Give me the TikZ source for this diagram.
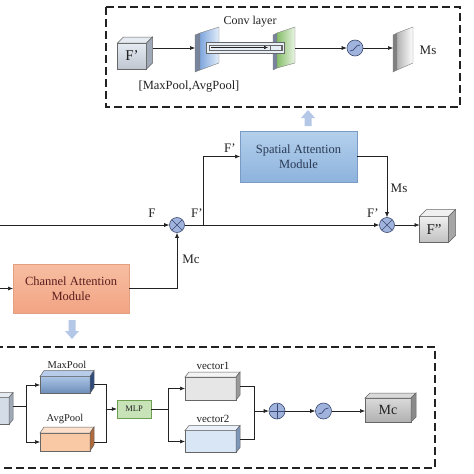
\documentclass[tikz,border=0pt]{standalone}
\usepackage{fontspec}
\setmainfont{Liberation Serif}
\usetikzlibrary{arrows.meta,calc}
\definecolor{samtop}{HTML}{B4D0EC}
\definecolor{sambot}{HTML}{8DB3DD}
\definecolor{samborder}{HTML}{7A9CC4}
\definecolor{samtext}{HTML}{2B3A55}
\definecolor{camtop}{HTML}{F7BEA2}
\definecolor{cambot}{HTML}{F2A483}
\definecolor{camborder}{HTML}{E3A080}
\definecolor{camtext}{HTML}{5C1E1E}
\definecolor{mpfront}{HTML}{7FA5D8}
\definecolor{mptop}{HTML}{B6CCEA}
\definecolor{mpside}{HTML}{2E4A7A}
\definecolor{apfront}{HTML}{F9C9A5}
\definecolor{aptop}{HTML}{FCE0CB}
\definecolor{apside}{HTML}{B0693A}
\definecolor{mlpfill}{HTML}{C9E3B8}
\definecolor{mlpborder}{HTML}{6E9E50}
\definecolor{vonefront}{HTML}{E6E6E6}
\definecolor{vonetop}{HTML}{F4F4F4}
\definecolor{voneside}{HTML}{9A9A9A}
\definecolor{vtwofront}{HTML}{D9E6F6}
\definecolor{vtwotop}{HTML}{EAF1FA}
\definecolor{vtwoside}{HTML}{7D97BA}
\definecolor{mcfront}{HTML}{C4C4C4}
\definecolor{mctop}{HTML}{DADADA}
\definecolor{mcside}{HTML}{8A8A8A}
\definecolor{fpfront}{HTML}{D4DCE8}
\definecolor{fptop}{HTML}{E6EBF2}
\definecolor{fpside}{HTML}{9FA9B8}
\definecolor{ffront}{HTML}{E2E2E2}
\definecolor{ftop}{HTML}{F0F0F0}
\definecolor{fside}{HTML}{A6A6A6}
\definecolor{opfill}{HTML}{9FB3DD}
\definecolor{opdraw}{HTML}{3C4A72}
\definecolor{bigarrow}{HTML}{B4C7E7}
\definecolor{inkc}{HTML}{222222}
\definecolor{planeblue}{HTML}{7FA6DE}
\definecolor{planeblueL}{HTML}{E4EEF9}
\definecolor{planegreen}{HTML}{86BE6A}
\definecolor{planegreenL}{HTML}{EAF4E4}
\definecolor{planeside}{HTML}{77849C}
\definecolor{tubefill}{HTML}{E8EEF6}

\tikzset{
  conn/.style={draw=inkc, line width=0.6pt},
  arr/.style={conn, -{Latex[length=5pt,width=4pt]}},
  lbl/.style={font=\fontsize{13}{14}\selectfont, inner sep=0pt, text=inkc},
  smalllbl/.style={font=\fontsize{10.5}{12}\selectfont, inner sep=0pt, text=inkc},
  face/.style={draw=black!60, line width=0.5pt, inner sep=0pt, outer sep=0pt, text=inkc},
  dashbox/.style={draw=inkc, line width=1.3pt, dash pattern=on 8pt off 4pt},
  opcircle/.style={circle, draw=opdraw, fill=opfill, line width=0.6pt, minimum size=15pt, inner sep=0pt},
  modbox/.style={draw, line width=0.6pt, align=center, inner sep=0pt, outer sep=0pt,
    font=\fontsize{12.5}{15}\selectfont},
  planeedge/.style={draw=black!50, line width=0.4pt},
}

\newcommand{\cubefaces}[5]{%
  \filldraw[fill=#4, draw=black!60, line width=0.5pt] (#1.north west) -- ++(#2,#3) -- ($(#1.north east)+(#2,#3)$) -- (#1.north east) -- cycle;
  \filldraw[fill=#5, draw=black!60, line width=0.5pt] (#1.north east) -- ++(#2,#3) -- ($(#1.south east)+(#2,#3)$) -- (#1.south east) -- cycle;
}
\newcommand{\otimessign}[1]{%
  \draw[opdraw, line width=0.6pt] ($(#1.center)+(-5,-5)$) -- ($(#1.center)+(5,5)$);
  \draw[opdraw, line width=0.6pt] ($(#1.center)+(-5,5)$) -- ($(#1.center)+(5,-5)$);
}
\newcommand{\oplussign}[1]{%
  \draw[opdraw, line width=0.6pt] ($(#1.center)+(-7.5,0)$) -- ($(#1.center)+(7.5,0)$);
  \draw[opdraw, line width=0.6pt] ($(#1.center)+(0,-7.5)$) -- ($(#1.center)+(0,7.5)$);
}
\newcommand{\sigsign}[1]{%
  \draw[opdraw, line width=0.7pt] ($(#1.center)+(-5,3)$) .. controls ($(#1.center)+(1,3)$) and ($(#1.center)+(-1,-3)$) .. ($(#1.center)+(5,-3)$);
}

\begin{document}
\begin{tikzpicture}[x=1pt,y=-1pt]
\useasboundingbox (0,0) rectangle (474,474);
\fill[white] (0,0) rectangle (474,474);
\clip (0,0) rectangle (474,474);

% ---------------- top dashed box (spatial attention detail) ----------------
\draw[dashbox] (106,7) rectangle (460,107);

\node[face, top color=fptop, bottom color=fpfront!90!black, minimum width=29pt, minimum height=26pt] (fp) at (132,56) {\fontsize{15}{16}\selectfont F'};
\cubefaces{fp}{6}{-6}{fptop}{fpside}
\coordinate (fpo) at (153,48);

% blue plane
\filldraw[fill=planeside, planeedge] (195,35) -- (200,33) -- (200,70) -- (195,72) -- cycle;
\shade[left color=planeblue, right color=planeblueL] (200,33) -- (219,27) -- (219,63) -- (200,70) -- cycle;
\draw[planeedge] (200,33) -- (219,27) -- (219,63) -- (200,70) -- cycle;
\coordinate (bp) at (195,48);
% green plane
\filldraw[fill=planeside, planeedge] (273,35) -- (277,33) -- (277,68) -- (273,70) -- cycle;
\shade[left color=planegreen, right color=planegreenL] (277,33) -- (295,27) -- (295,63) -- (277,68) -- cycle;
\draw[planeedge] (277,33) -- (295,27) -- (295,63) -- (277,68) -- cycle;
\coordinate (gp) at (295,48);
% Ms plane
\filldraw[fill=black!50, planeedge] (393,35) -- (397,33) -- (397,70) -- (393,72) -- cycle;
\shade[left color=black!30, right color=white] (397,33) -- (413,27) -- (413,63) -- (397,70) -- cycle;
\draw[planeedge] (397,33) -- (413,27) -- (413,63) -- (397,70) -- cycle;
\coordinate (msp) at (393,48);

% conv tube
\filldraw[fill=tubefill, draw=black!60, line width=0.5pt] (206,42) rectangle (284,53);
\draw[black!60, line width=0.4pt] (209,45) rectangle (281,50);
\draw[inkc, line width=0.5pt, -{Latex[length=4pt,width=3.5pt]}] (211,47.5) -- (268,47.5);
\draw[black!60, line width=0.4pt] (270,45) rectangle (282,50);

\node[font=\fontsize{12}{13}\selectfont, inner sep=0pt, text=inkc] (convlbl) at (250,22) {Conv layer};
\node[font=\fontsize{12.5}{13}\selectfont, inner sep=0pt, text=inkc] (poollbl) at (189,87) {[MaxPool,AvgPool]};

\node[opcircle, minimum size=16pt] (sg1) at (355,48) {};
\sigsign{sg1}
\node[lbl] (mslbl) at (428,50) {Ms};

\draw[arr] (fpo) -- (bp);
\draw[arr] (gp) -- (sg1.west);
\draw[arr] (sg1) -- (msp);

% big up arrow
\filldraw[fill=bigarrow, draw=none] (304.5,126) -- (311.5,126) -- (311.5,118) -- (315,118) -- (308,110) -- (301,118) -- (304.5,118) -- cycle;

% ---------------- main flow ----------------
\node[modbox, draw=samborder, top color=samtop, bottom color=sambot, text=samtext,
      minimum width=117pt, minimum height=51pt] (sam) at (298.5,156.5) {Spatial Attention\\Module};

\coordinate (in1) at (0,225);
\node[opcircle] (x1) at (177,225) {};
\otimessign{x1}
\node[opcircle] (x2) at (387,225) {};
\otimessign{x2}
\coordinate (br) at (203,225);

\node[face, top color=ftop, bottom color=ffront!85!black, minimum width=29pt, minimum height=26pt] (fpp) at (434,229.5) {\fontsize{15}{16}\selectfont F''};
\cubefaces{fpp}{7}{-7}{ftop}{fside}

\draw[arr] (in1) -- (x1);
\draw[arr] (x1) -- (x2);
\draw[arr] (br) |- (sam.west);
\draw[arr] (sam.east) -| (x2.north);
\draw[arr] (x2) -- (x2 -| fpp.west);

\node[lbl] (lf) at (152,213) {F};
\node[lbl] (lf1) at (197,213) {F'};
\node[lbl] (lf2) at (230,148) {F'};
\node[lbl] (lf3) at (373,213) {F'};
\node[lbl] (lms) at (399,188) {Ms};
\node[lbl] (lmc) at (191,259) {Mc};

\node[modbox, draw=camborder, top color=camtop, bottom color=cambot, text=camtext,
      minimum width=116pt, minimum height=49pt] (cam) at (71,288.5) {Channel Attention\\Module};
\coordinate (in2) at (0,288.5);
\draw[arr] (in2) -- (cam.west);
\draw[arr] (cam.east) -| (x1.south);

% big down arrow
\filldraw[fill=bigarrow, draw=none] (68.5,320) -- (75.5,320) -- (75.5,331) -- (79,331) -- (72,339) -- (65,331) -- (68.5,331) -- cycle;

% ---------------- bottom dashed box (channel attention detail) ----------------
\draw[dashbox] (-5,347) -- (435,347) -- (435,468) -- (-5,468);

\node[face, fill=fpfront, minimum width=28pt, minimum height=27pt] (fin) at (-5,411) {};
\cubefaces{fin}{4}{-5}{fptop}{fpside}
\coordinate (fino) at (13,406);
\coordinate (j0) at (26,406);

\node[face, top color=mptop!80!mpfront, bottom color=mpfront!85!black, minimum width=50pt, minimum height=17pt] (mp) at (65,385) {};
\cubefaces{mp}{4}{-6}{mptop}{mpside}
\node[face, fill=apfront, minimum width=50pt, minimum height=18pt] (ap) at (65,442) {};
\cubefaces{ap}{4}{-6}{aptop}{apside}
\node[smalllbl] (mplbl) at (67,365) {MaxPool};
\node[smalllbl] (aplbl) at (65,419) {AvgPool};

\draw[conn] (fino) -- (j0);
\draw[arr] (j0) |- (mp.west);
\draw[arr] (j0) |- (ap.west);

\node[draw=mlpborder, fill=mlpfill, line width=0.5pt, minimum width=34pt, minimum height=18pt, inner sep=0pt,
      font=\fontsize{8.5}{9}\selectfont, text=inkc] (mlp) at (134,409) {MLP};
\coordinate (j1) at (106,409);
\draw[conn] ([xshift=4pt,yshift=1pt]mp.east) -| (j1);
\draw[conn] ([xshift=4pt]ap.east) -| (j1);
\draw[arr] (j1) -- (mlp.west);

\node[face, fill=vonefront, minimum width=51pt, minimum height=23pt] (v1) at (210.5,388.5) {};
\cubefaces{v1}{4}{-5}{vonetop}{voneside}
\node[face, fill=vtwofront, minimum width=51pt, minimum height=22pt] (v2) at (210.5,441.5) {};
\cubefaces{v2}{4}{-5}{vtwotop}{vtwoside}
\node[smalllbl, font=\fontsize{11}{12}\selectfont] (v1lbl) at (213,366) {vector1};
\node[smalllbl, font=\fontsize{11}{12}\selectfont] (v2lbl) at (213,419) {vector2};

\coordinate (j2) at (168,409);
\draw[conn] (mlp.east) -- (j2);
\draw[arr] (j2) |- (v1.west);
\draw[arr] (j2) |- (v2.west);

\node[opcircle, minimum size=16pt] (pl) at (277,411) {};
\oplussign{pl}
\node[opcircle, minimum size=16pt] (sg2) at (323.5,411) {};
\sigsign{sg2}
\coordinate (j3) at (254,411);
\draw[conn] ([xshift=4pt,yshift=2pt]v1.east) -| (j3);
\draw[conn] ([xshift=4pt,yshift=2pt]v2.east) -| (j3);
\draw[arr] (j3) -- (pl.west);
\draw[arr] (pl) -- (sg2);

\node[face, top color=mctop, bottom color=mcfront!90!black, minimum width=46pt, minimum height=24pt] (mc) at (388,410) {\fontsize{14}{15}\selectfont Mc};
\cubefaces{mc}{5}{-5}{mctop}{mcside}
\draw[arr] (sg2) -- (sg2 -| mc.west);

\end{tikzpicture}
\end{document}
